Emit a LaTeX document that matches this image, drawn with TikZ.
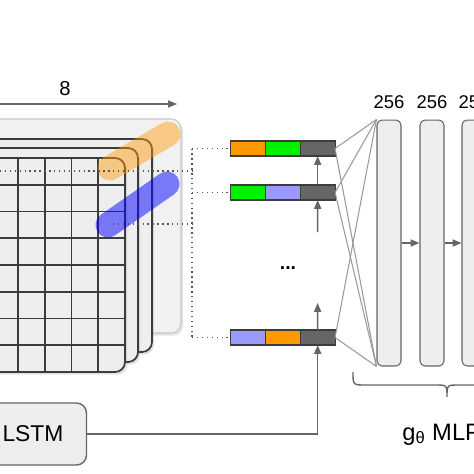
\documentclass[tikz,border=0pt]{standalone}
\usepackage{fontspec}
\setmainfont{Liberation Sans}
\usetikzlibrary{positioning,arrows.meta,shadows}
\definecolor{RNLayer}{HTML}{EEEEEE}
\definecolor{RNBack}{HTML}{F1F1F1}
\definecolor{RNEdge}{HTML}{3C3C3C}
\definecolor{RNLine}{HTML}{C8C8C8}
\definecolor{RNOrange}{HTML}{FF9900}
\definecolor{RNGreen}{HTML}{00F000}
\definecolor{RNLav}{HTML}{9999FF}
\definecolor{RNBlue}{HTML}{0000FF}
\definecolor{RNGray}{HTML}{666666}
\definecolor{RNWire}{HTML}{9A9A9A}
\definecolor{RNDot}{HTML}{555555}

\begin{document}
\begin{tikzpicture}[x=0.02cm,y=-0.02cm,
  layer/.style={fill=RNLayer,draw=RNEdge,line width=1pt,rounded corners=0.2cm,
    drop shadow={opacity=.22,shadow xshift=1.2pt,shadow yshift=-1.5pt}},
  gridline/.style={draw=RNEdge,line width=0.9pt},
  pill/.style={line width=0.5cm,line cap=round},
  dots/.style={draw=RNDot,dotted,line width=0.8pt},
  seg/.style={minimum width=0.694cm,minimum height=0.3cm,inner sep=0pt,outer sep=0pt,
    draw=RNEdge,line width=0.6pt},
  arr/.style={draw=RNGray,line width=0.8pt,-{Triangle[length=5pt,width=4pt]}},
  wire/.style={draw=RNWire,line width=0.6pt},
  mlpcol/.style={minimum width=0.48cm,minimum height=4.92cm,inner sep=0pt,
    rounded corners=0.1cm,fill=RNLayer,draw=RNGray,line width=0.6pt},
  dimtext/.style={font=\fontsize{10.5}{12}\selectfont}]
\path[use as bounding box] (0,0) rectangle (474,474);
\clip (0,0) rectangle (474,474);
\fill[white] (0,0) rectangle (474,474);

% feature map stack
\draw[layer,fill=RNBack,draw=RNLine,line width=0.6pt] (-100,119) rectangle (181,333);
\draw[layer] (-100,139) rectangle (152,352);
\draw[layer] (-100,148) rectangle (138,362);
\draw[layer] (-89,158) rectangle (125,372);
\foreach \i in {1,...,7} {
  \draw[gridline] ({-89+26.75*\i},158) -- ({-89+26.75*\i},372);
  \draw[gridline] (-89,{158+26.75*\i}) -- (125,{158+26.75*\i});
}
\draw[pill,RNOrange,opacity=.45] (110,168) -- (168,134);
\draw[pill,RNBlue,opacity=.5] (108,225) -- (167,184);

\node[font=\fontsize{11.5}{13}\selectfont] (eight) at (65,89) {8};
\coordinate (dimstart) at (-10,104);
\coordinate (dimend) at (177,104);
\draw[arr] (dimstart) -- (dimend);

% object pairs
\node[seg,fill=RNOrange] (v1a) at (248.3,148.5) {};
\node[seg,fill=RNGreen,right=0pt of v1a] (v1b) {};
\node[seg,fill=RNGray,right=0pt of v1b] (v1c) {};
\node[seg,fill=RNGreen] (v2a) at (248.3,192.5) {};
\node[seg,fill=RNLav,right=0pt of v2a] (v2b) {};
\node[seg,fill=RNGray,right=0pt of v2b] (v2c) {};
\node[seg,fill=RNLav] (v3a) at (248.3,337.5) {};
\node[seg,fill=RNOrange,right=0pt of v3a] (v3b) {};
\node[seg,fill=RNGray,right=0pt of v3b] (v3c) {};
\node[font=\fontsize{11}{13}\selectfont\bfseries] (gap) at (288,268) {...};

\coordinate (bus) at (192,148);
\coordinate (orangetap) at (-5,171);
\coordinate (bluetap) at (113,224);
\draw[dots] (orangetap) -- (orangetap -| bus);
\draw[dots] (bluetap) -- (bluetap -| bus);
\draw[dots] (v1a.west -| bus) -- (v3a.west -| bus);
\draw[dots] (v1a.west -| bus) -- (v1a.west);
\draw[dots] (v2a.west -| bus) -- (v2a.west);
\draw[dots] (v3a.west -| bus) -- (v3a.west);

% question embedding
\node[fill=RNLayer,draw=RNGray,line width=0.8pt,rounded corners=0.2cm,
  minimum width=2.14cm,minimum height=1.24cm,font=\fontsize{13}{15}\selectfont] (lstm) at (33,434) {LSTM};
\coordinate (v3up) at (317.6,303);
\coordinate (v2in) at (317.6,232);
\draw[arr] (lstm.east) -| (v3c.south);
\draw[arr] (v3c.north) -- (v3up);
\draw[arr] (v2in) -- (v2c.south);
\draw[arr] (v2c.north) -- (v1c.south);

% MLP
\node[mlpcol] (mlp1) at (389,243) {};
\node[mlpcol] (mlp2) at (432,243) {};
\node[mlpcol] (mlp3) at (474,243) {};
\foreach \c in {mlp1,mlp2,mlp3}
  \node[dimtext,above=0.1cm of \c] (\c lab) {256};
\foreach \v in {v1c,v2c,v3c} {
  \draw[wire] (\v.east) -- (mlp1.north west);
  \draw[wire] (\v.east) -- (mlp1.south west);
}
\draw[arr] (mlp1.east) -- (mlp2.west);
\draw[arr] (mlp2.east) -- (mlp3.west);
\draw[draw=RNGray,line width=0.8pt] (353,372) .. controls (353,385) .. (365,385) -- (435,385)
  .. controls (447,385) .. (447,397) .. controls (447,385) .. (459,385) -- (529,385)
  .. controls (541,385) .. (541,372);
\node[anchor=base west,inner sep=0pt,font=\fontsize{13.5}{15}\selectfont] (mlptext) at (402,440) {g\textsubscript{θ} MLP};
\end{tikzpicture}
\end{document}
